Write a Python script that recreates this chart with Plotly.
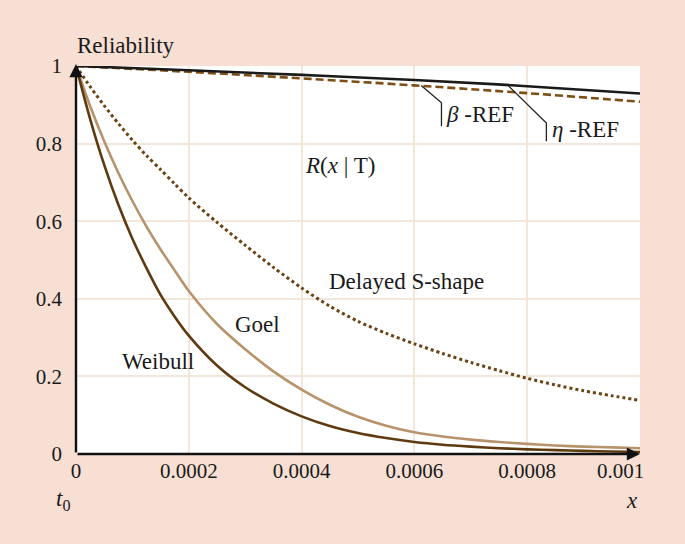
import plotly.graph_objects as go

# values
X = [0, 0.000025, 0.00005, 0.000075, 0.0001, 0.000125, 0.00015, 0.000175, 0.0002,
     0.00025, 0.0003, 0.00035, 0.0004, 0.00045, 0.0005, 0.00055, 0.0006, 0.00065,
     0.0007, 0.00075, 0.0008, 0.00085, 0.0009, 0.00095, 0.001]

WEIBULL = [1.0, 0.864, 0.745, 0.643, 0.555, 0.479, 0.41, 0.354, 0.305,
           0.228, 0.172, 0.13, 0.097, 0.072, 0.054, 0.041, 0.031, 0.024,
           0.019, 0.015, 0.012, 0.01, 0.008, 0.0065, 0.005]
GOEL = [1.0, 0.897, 0.806, 0.725, 0.652, 0.586, 0.527, 0.473, 0.42,
        0.335, 0.27, 0.213, 0.166, 0.127, 0.096, 0.073, 0.056, 0.045,
        0.037, 0.031, 0.026, 0.022, 0.019, 0.017, 0.015]
DELAYED_S = [1.0, 0.947, 0.898, 0.852, 0.809, 0.769, 0.733, 0.696, 0.66,
             0.597, 0.538, 0.481, 0.428, 0.381, 0.342, 0.311, 0.284, 0.259,
             0.236, 0.215, 0.195, 0.178, 0.163, 0.15, 0.138]

X_REF = [0, 0.0002, 0.0004, 0.0006, 0.0008, 0.001]
ETA_REF = [1.0, 0.989, 0.977, 0.964, 0.948, 0.929]
BETA_REF = [1.0, 0.985, 0.968, 0.95, 0.93, 0.908]

X_TICKS = [0, 0.0002, 0.0004, 0.0006, 0.0008, 0.001]
X_TICK_TEXT = ["0", "0.0002", "0.0004", "0.0006", "0.0008", "0.001"]
Y_TICKS = [0, 0.2, 0.4, 0.6, 0.8, 1]
Y_TICK_TEXT = ["0", "0.2", "0.4", "0.6", "0.8", "1"]

FONT = "Liberation Serif"
BG = "#f8dfd4"
GRID = "#f3e6da"
INK = "#1a1a1a"

fig = go.Figure()

fig.add_trace(go.Scatter(x=X, y=DELAYED_S, mode="lines", name="Delayed S-shape",
                         line=dict(color="#6b4212", width=3, dash="dot",
                                   shape="spline", smoothing=0.8),
                         cliponaxis=False))
fig.add_trace(go.Scatter(x=X, y=GOEL, mode="lines", name="Goel",
                         line=dict(color="#b7936c", width=2.6, shape="spline", smoothing=0.8),
                         cliponaxis=False))
fig.add_trace(go.Scatter(x=X, y=WEIBULL, mode="lines", name="Weibull",
                         line=dict(color="#5f3a10", width=2.6, shape="spline", smoothing=0.8),
                         cliponaxis=False))
fig.add_trace(go.Scatter(x=X_REF, y=BETA_REF, mode="lines", name="β-REF",
                         line=dict(color="#7d4e16", width=2.6, dash="8px,4px", shape="spline"),
                         cliponaxis=False))
fig.add_trace(go.Scatter(x=X_REF, y=ETA_REF, mode="lines", name="η-REF",
                         line=dict(color=INK, width=2.6, shape="spline"),
                         cliponaxis=False))

# axes drawn as arrows
for x0, y0, x1, y1 in [(0, 0, 0, 1.005), (0, 0, 0.001, 0)]:
    fig.add_annotation(x=x1, y=y1, ax=x0, ay=y0, xref="x", yref="y", axref="x", ayref="y",
                       text="", showarrow=True, arrowhead=2, arrowsize=1.1,
                       arrowwidth=2.4, arrowcolor="#111111", standoff=0, startstandoff=0)

# leader lines for the REF curves
fig.add_shape(type="path", xref="x", yref="y",
              path="M 0.000612,0.950 L 0.000648,0.905 L 0.000648,0.845",
              line=dict(color="#222222", width=1.3))
fig.add_shape(type="path", xref="x", yref="y",
              path="M 0.000766,0.950 L 0.000834,0.853 L 0.000834,0.806",
              line=dict(color="#222222", width=1.3))

# labels inside the plot
labels = [
    ("<i>β</i> -REF", 0.000652, 0.875),
    ("<i>η</i> -REF", 0.00084, 0.836),
    ("<i>R</i>(<i>x</i> | T)", 0.000402, 0.743),
    ("Delayed S-shape", 0.000445, 0.445),
    ("Goel", 0.000279, 0.333),
    ("Weibull", 0.000078, 0.238),
]
for text, x, y in labels:
    fig.add_annotation(x=x, y=y, xref="x", yref="y", text=text, showarrow=False,
                       xanchor="left", yanchor="middle",
                       font=dict(family=FONT, size=23, color=INK))

# labels outside the plot area (paper coordinates)
outside = [
    ("Reliability", -0.002, 1.054, "left", 23),
    ("<i>t</i><sub>0</sub>", -0.023, -0.119, "center", 23),
    ("<i>x</i>", 0.986, -0.119, "center", 23),
    (X_TICK_TEXT[-1], 0.966, -0.045, "center", 21),
]
for text, x, y, anchor, size in outside:
    fig.add_annotation(x=x, y=y, xref="paper", yref="paper", text=text, showarrow=False,
                       xanchor=anchor, yanchor="middle",
                       font=dict(family=FONT, size=size, color=INK))

fig.update_xaxes(range=[0, 0.001], tickvals=X_TICKS[:-1], ticktext=X_TICK_TEXT[:-1],
                 showgrid=True, gridcolor=GRID, gridwidth=2, zeroline=False,
                 showline=False, ticks="", ticklabelstandoff=2,
                 tickfont=dict(family=FONT, size=21, color=INK))
fig.update_yaxes(range=[0, 1], tickvals=Y_TICKS, ticktext=Y_TICK_TEXT,
                 showgrid=True, gridcolor=GRID, gridwidth=2, zeroline=False,
                 showline=False, ticks="", ticklabelstandoff=13,
                 tickfont=dict(family=FONT, size=21, color=INK))

fig.update_layout(
    width=685,
    height=544,
    margin=dict(l=76, r=45, t=66, b=90),
    paper_bgcolor=BG,
    plot_bgcolor="white",
    showlegend=False,
    font=dict(family=FONT, size=21, color=INK),
)

# drop the page's default body margin so the figure fills the window
fig.write_html("out.html", config={"displayModeBar": False},
               post_script="document.body.style.margin = '0';")
